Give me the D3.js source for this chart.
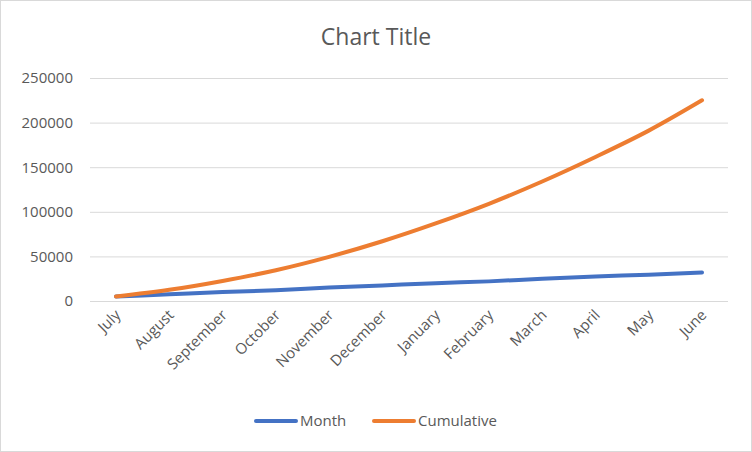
<!DOCTYPE html>
<html><head><meta charset="utf-8">
<script src="https://cdn.jsdelivr.net/npm/d3@7/dist/d3.min.js"></script>
<style>body{margin:0;background:#fff}text{font-family:"Open Sans","Noto Sans",sans-serif;fill:#595959}</style>
</head><body><svg id="c" width="752" height="452"></svg>
<script>
const categories=["July","August","September","October","November","December","January","February","March","April","May","June"];
const monthValues=[5000,7500,10000,12000,15000,17500,20000,22000,25000,27500,29500,32000];
const cumulativeValues=[5000,12500,22500,34500,49500,67000,87000,109000,134000,161500,191000,225000];
const yTicks=[0,50000,100000,150000,200000,250000];
const svg=d3.select("#c");
svg.append("rect").attr("x",0.5).attr("y",0.5).attr("width",751).attr("height",451).attr("fill","#fff").attr("stroke","#d9d9d9");
const x=d3.scalePoint().domain(categories).range([116,702]);
const y=d3.scaleLinear().domain([0,250000]).range([301,78]);
svg.append("text").attr("x",376).attr("y",45).attr("text-anchor","middle").attr("font-size",23).text("Chart Title");
const ya=svg.append("g").attr("transform","translate(90,0)").call(d3.axisLeft(y).tickValues(yTicks).tickSize(-(728-90)).tickFormat(d3.format("d")));
ya.select(".domain").remove();
ya.selectAll("line").attr("stroke","#d9d9d9");
ya.selectAll("text").attr("x",-17).attr("font-size",15).style("fill","#595959");
const xa=svg.append("g").attr("transform","translate(0,301)").call(d3.axisBottom(x).tickSize(0));
xa.select(".domain").remove();
xa.selectAll("text").attr("font-size",15).style("fill","#595959").attr("text-anchor","end").attr("dy",0).attr("y",0)
  .attr("transform","translate(5,15) rotate(-45)");
const line=d3.line().x((d,i)=>x(categories[i])).y(d=>y(d)).curve(d3.curveMonotoneX);
svg.append("path").datum(monthValues).attr("d",line).attr("fill","none").attr("stroke","#4472c4").attr("stroke-width",4).attr("stroke-linecap","round");
svg.append("path").datum(cumulativeValues).attr("d",line).attr("fill","none").attr("stroke","#ed7d31").attr("stroke-width",4).attr("stroke-linecap","round");
const lg=[["Month","#4472c4",256],["Cumulative","#ed7d31",374]];
lg.forEach(([n,c,lx])=>{
 svg.append("line").attr("x1",lx).attr("x2",lx+40).attr("y1",421).attr("y2",421).attr("stroke",c).attr("stroke-width",4).attr("stroke-linecap","round");
 svg.append("text").attr("x",lx+44).attr("y",426).attr("font-size",15).text(n);
});
</script></body></html>
